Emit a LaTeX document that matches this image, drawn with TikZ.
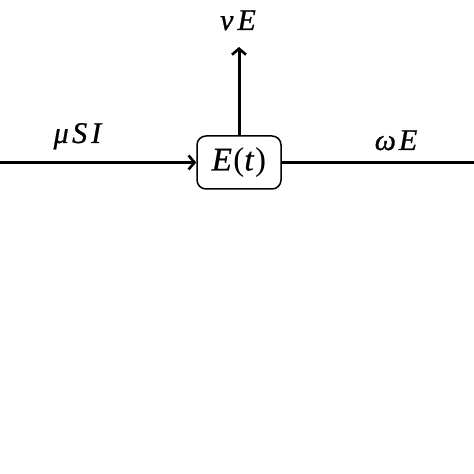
\documentclass[tikz,border=0pt]{standalone}
\usepackage{fontspec}
\setmainfont{Liberation Serif}[ItalicFeatures={FakeBold=0.8}]
\usetikzlibrary{arrows.meta}
\tikzset{
  flow/.style={line width=3pt, -{Straight Barb[length=6pt,width=14pt,line width=2.6pt]}},
  plain/.style={line width=3pt},
  comp/.style={draw, line width=1.5pt, rounded corners=9pt, minimum width=84pt, minimum height=53pt, inner sep=0pt, font=\fontsize{33}{36}\selectfont},
  lab/.style={font=\fontsize{30}{32}\selectfont, inner sep=0pt, anchor=base}
}
\begin{document}
\begin{tikzpicture}[x=1pt,y=1pt]
\useasboundingbox (0,0) rectangle (474,474);
\node[comp] (e) at (239,311.5) {\textit{E}\hspace{1.5pt}(\textit{t}\hspace{1pt})};
\coordinate (in) at (0,311.5);
\coordinate (out) at (474,311.5);
\coordinate (up) at (239,427);
\draw[flow] (in) -- (e.west);
\draw[flow] (e.north) -- (up);
\draw[plain] (e.east) -- (out);
\node[lab] (l1) at (78,331) {\textit{μ\hspace{3.5pt}S\hspace{4pt}I}};
\node[lab] (l2) at (238,444) {\textit{ν\hspace{4pt}E}};
\node[lab] (l3) at (396,324) {\textit{ω\hspace{3pt}E}};
\end{tikzpicture}
\end{document}
